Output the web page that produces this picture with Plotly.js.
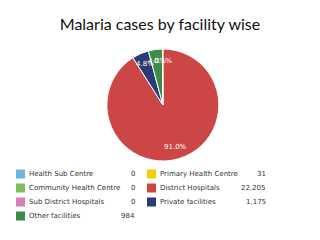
<!DOCTYPE html>
<html>
<head>
<meta charset="utf-8">
<script src="https://cdn.plot.ly/plotly-3.0.1.min.js"></script>
<style>html,body{margin:0;padding:0;background:#fff}#chart{width:320px;height:240px}</style>
</head>
<body>
<div id="chart"></div>
<script>
// Pie slices (drawing order, clockwise from top)
const pieLabels = ["District Hospitals", "Private facilities", "Other facilities", "Primary Health Centre"];
const pieValues = [22205, 1175, 984, 31];
const pieColors = ["#cc4646", "#2c3b75", "#3b8c47", "#f4cf00"];

// Legend table
const legendLabels = ["Health Sub Centre", "Community Health Centre", "Sub District Hospitals", "Other facilities",
                      "Primary Health Centre", "District Hospitals", "Private facilities"];
const legendValues = [0, 0, 0, 984, 31, 22205, 1175];
const legendColors = ["#6cb6df", "#7fbd5c", "#d57fb3", "#3b8c47", "#f4cf00", "#cc4646", "#2c3b75"];

const W = 320, H = 240;
const shapes = [], annotations = [];
const rowsY = [174, 188, 202, 216];
const lfont = {family: "DejaVu Sans", size: 7, color: "#333"};
legendLabels.forEach((lab, i) => {
  const col = i < 4 ? 0 : 1;
  const row = i < 4 ? i : i - 4;
  const sx = col === 0 ? 16 : 147;
  const vx = col === 0 ? 137 : 268;
  const y = rowsY[row];
  shapes.push({type: "rect", xref: "paper", yref: "paper",
    x0: sx / W, x1: (sx + 9) / W, y0: 1 - (y + 4.5) / H, y1: 1 - (y - 4.5) / H,
    fillcolor: legendColors[i], line: {width: 0}});
  annotations.push({xref: "paper", yref: "paper", x: (sx + 11) / W, y: 1 - y / H,
    xanchor: "left", yanchor: "middle", showarrow: false, text: lab, font: lfont});
  annotations.push({xref: "paper", yref: "paper", x: vx / W, y: 1 - y / H,
    xanchor: "right", yanchor: "middle", showarrow: false, text: legendValues[i].toLocaleString("en-US"), font: lfont});
});

// Pie geometry (domain) and percent labels placed along each slice's mid-angle
const dom = {x: [0.334, 0.684], y: [0.329, 0.796]};
const cx = (dom.x[0] + dom.x[1]) / 2 * W, cy = (1 - (dom.y[0] + dom.y[1]) / 2) * H;
const R = Math.min((dom.x[1] - dom.x[0]) * W, (dom.y[1] - dom.y[0]) * H) / 2;
const total = pieValues.reduce((a, b) => a + b, 0);
let cum = 0;
pieValues.forEach((v) => {
  const mid = (cum + v / 2) / total * 2 * Math.PI;
  cum += v;
  const r = 0.79 * R;
  const px = cx + r * Math.sin(mid), py = cy - r * Math.cos(mid);
  annotations.push({xref: "paper", yref: "paper", x: px / W, y: 1 - py / H,
    xanchor: "center", yanchor: "middle", showarrow: false,
    text: (v / total * 100).toFixed(1) + "%",
    font: {family: "DejaVu Sans", size: 7, color: "#fff"}});
});

const data = [{
  type: "pie", labels: pieLabels, values: pieValues, sort: false, direction: "clockwise", rotation: 0,
  marker: {colors: pieColors, line: {color: "#fff", width: 1}},
  textinfo: "none", domain: dom, hoverinfo: "none", showlegend: false
}];
const layout = {
  width: W, height: H, margin: {l: 0, r: 0, t: 0, b: 0},
  paper_bgcolor: "#fff", showlegend: false,
  title: {text: "Malaria cases by facility wise", font: {family: "Lato", size: 16, color: "#111", weight: 400},
    x: 0.5, xanchor: "center", y: 1 - 24 / H, yanchor: "middle"},
  shapes: shapes, annotations: annotations
};
Plotly.newPlot("chart", data, layout, {displayModeBar: false, staticPlot: true});
</script>
</body>
</html>
